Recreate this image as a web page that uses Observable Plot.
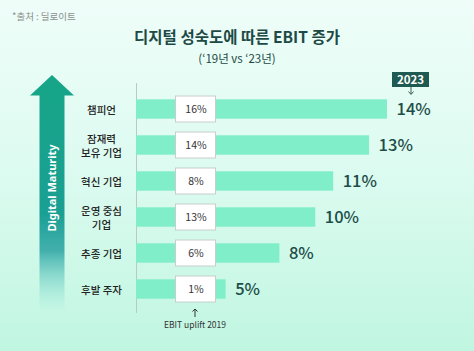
<!DOCTYPE html>
<html>
<head>
<meta charset="utf-8">
<script src="https://cdn.jsdelivr.net/npm/d3@7"></script>
<script src="https://cdn.jsdelivr.net/npm/@observablehq/plot@0.6"></script>
<style>
  html, body { margin: 0; padding: 0; }
  body { width: 474px; height: 351px; overflow: hidden; }
  #wrap {
    position: relative; width: 474px; height: 351px;
    background: linear-gradient(180deg, #effdf9 0%, #dcfbf0 50%, #c0f6e1 100%);
    font-family: "Noto Sans CJK KR", "Noto Sans", sans-serif;
  }
  #chart { position: absolute; left: 0; top: 0; }
  .abs { position: absolute; white-space: nowrap; }
  #source { left: 12px; top: 9px; font-size: 9.5px; color: #8a8f8d; }
  #title { left: 0; width: 474px; text-align: center; top: 27px; font-size: 15.5px; font-weight: 700; color: #1d4a45; line-height: 18px; }
  #subtitle { left: 0; width: 474px; text-align: center; top: 51px; font-size: 11.5px; color: #1d4a45; line-height: 14px; }
  #badge { left: 392px; top: 72px; width: 37px; height: 15px; background: #1f5a52; color: #fff; font-size: 11.5px; font-weight: 700; text-align: center; line-height: 15px; }
  #uplift { left: 155px; width: 80px; text-align: center; top: 319px; font-size: 8.5px; color: #333; line-height: 11px; }
  #deco { position: absolute; left: 0; top: 0; }
</style>
</head>
<body>
<div id="wrap">
  <svg id="deco" width="474" height="351">
    <defs>
      <linearGradient id="shaft" x1="0" y1="0" x2="0" y2="1">
        <stop offset="0" stop-color="#17a589"/>
        <stop offset="0.55" stop-color="#1a9f93"/>
        <stop offset="0.72" stop-color="#2aa3a3" stop-opacity="0.85"/>
        <stop offset="1" stop-color="#7fe0d0" stop-opacity="0"/>
      </linearGradient>
    </defs>
    <rect x="39.5" y="94" width="25" height="218" fill="url(#shaft)"/>
    <polygon points="52,75 74,95.5 30,95.5" fill="#17a589"/>
    <text x="0" y="0" transform="translate(55.5,188) rotate(-90)" text-anchor="middle" fill="#ffffff" font-size="11" font-weight="700" font-family="Noto Sans, sans-serif">Digital Maturity</text>
    <line x1="411" y1="87" x2="411" y2="94" stroke="#3a5e59" stroke-width="1"/>
    <polyline points="408.5,91.5 411,94.5 413.5,91.5" fill="none" stroke="#3a5e59" stroke-width="1"/>
    <line x1="195" y1="309" x2="195" y2="317" stroke="#333" stroke-width="1"/>
    <polyline points="192.5,311.5 195,309 197.5,311.5" fill="none" stroke="#333" stroke-width="1"/>
  </svg>
  <div id="chart"></div>
  <div class="abs" id="source">*출처 : 딜로이트</div>
  <div class="abs" id="title">디지털 성숙도에 따른 EBIT 증가</div>
  <div class="abs" id="subtitle">(‘19년 vs ‘23년)</div>
  <div class="abs" id="badge">2023</div>
  <div class="abs" id="uplift">EBIT uplift 2019</div>
</div>
<script>
const categories = ["챔피언", "잠재력 보유 기업", "혁신 기업", "운영 중심 기업", "추종 기업", "후발 주자"];
const labels = ["챔피언", "잠재력\n보유 기업", "혁신 기업", "운영 중심\n기업", "추종 기업", "후발 주자"];
const ebit2023 = [14, 13, 11, 10, 8, 5];
const ebit2019 = [16, 14, 8, 13, 6, 1];

const data = categories.map((c, i) => ({cat: c, label: labels[i], v23: ebit2023[i], v19: ebit2019[i]}));
const font = "'Noto Sans CJK KR', 'Noto Sans', sans-serif";

const plot = Plot.plot({
  width: 474,
  height: 351,
  marginTop: 83,
  marginBottom: 38,
  marginLeft: 136,
  marginRight: 0,
  style: {background: "transparent", fontFamily: font, overflow: "visible"},
  x: {domain: [0, 14], range: [136, 387], axis: null},
  y: {domain: categories, range: [88.7, 308.3], padding: 0, axis: null},
  marks: [
    Plot.ruleX([0], {stroke: "#b9c9c3", strokeWidth: 1}),
    Plot.barX(data, {x: "v23", y: "cat", fill: "#80eec9", insetTop: 8.3, insetBottom: 8.3}),
    Plot.barX(data, {x1: 0, x2: 0, y: "cat", fill: "#ffffff", stroke: "#c7cecb", strokeWidth: 1,
      insetLeft: 39.5, insetRight: -79.5, insetTop: 5, insetBottom: 5}),
    Plot.text(data, {x: 0, y: "cat", text: d => d.v19 + "%", dx: 59.5, fontSize: 10.5, fill: "#333333"}),
    Plot.text(data, {x: "v23", y: "cat", text: d => d.v23 + "%", dx: 9, textAnchor: "start",
      fontSize: 16.5, fontWeight: 500, fill: "#1d4d48"}),
    Plot.text(data, {x: 0, y: "cat", text: "label", dx: -35, textAnchor: "middle",
      fontSize: 10.5, fontWeight: 500, lineHeight: 1.3, fill: "#222222"})
  ]
});
document.getElementById("chart").appendChild(plot);
</script>
</body>
</html>
